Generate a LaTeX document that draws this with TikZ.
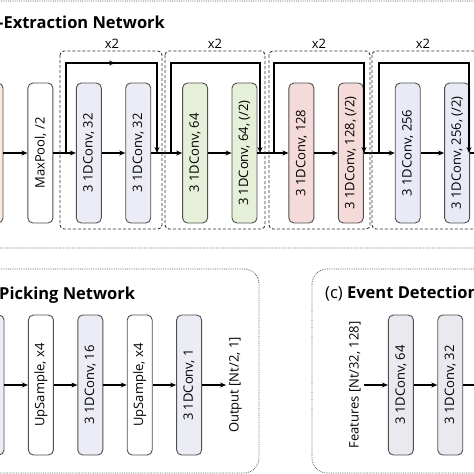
\documentclass[tikz,border=0pt]{standalone}
\usepackage{fontspec}
\setmainfont{Open Sans}
\usepackage{graphicx}
\usetikzlibrary{
  arrows.meta,
  positioning
}
\definecolor{LPeach}{HTML}{FBEADB}
\definecolor{LLav}{HTML}{ECECF6}
\definecolor{LGreen}{HTML}{E6EFD8}
\definecolor{LRose}{HTML}{F5DADA}
\definecolor{LSteel}{HTML}{E8EBF5}
\definecolor{LGrey}{HTML}{E9E9EF}
\definecolor{EdgeGrey}{HTML}{505050}
\newcommand{\vlab}[1]{\rotatebox{90}{#1}}
\tikzset{
  % Layer box: tall, label reads upwards
  layer/.style={
    rectangle, rounded corners=5pt,
    draw=EdgeGrey, fill=#1, line width=0.9pt,
    minimum width=25pt, minimum height=140pt,
    inner sep=0pt, font=\fontsize{13}{15}\selectfont
  },
  layer/.default=white,
  % Free text at the ends of a row
  io/.style={inner sep=3pt, font=\fontsize{13}{15}\selectfont},
  % Arrow
  arr/.style={-{Stealth[length=6pt,width=5pt]}, line width=1.1pt},
  % Plain line
  wire/.style={line width=1.1pt},
  % Dashed residual block
  grp/.style={rounded corners=4pt, draw=black!80, dash pattern=on 3pt off 2pt, line width=0.9pt},
  % Dotted section outline
  sect/.style={rounded corners=15pt, draw=black!65, densely dotted, line width=0.8pt},
  % Section title
  ttl/.style={font=\fontsize{16.5}{18}\selectfont\bfseries, anchor=base west, inner sep=0pt},
  % Repeat mark
  rep/.style={font=\fontsize{13}{15}\selectfont}
}
\begin{document}
\begin{tikzpicture}[x=1pt, y=-1pt, node distance=23.5pt]
  \useasboundingbox (0,0) rectangle (474,474);
  \clip (0,0) rectangle (474,474);

  % sections
  \draw[sect] (-30,1) rectangle (504,248);
  \draw[sect] (-30,269) rectangle (259,473);
  \draw[sect] (312,269) rectangle (504,473);

  \node[ttl] (ta) at (-2,28)  {-Extraction Network};
  \node[ttl] (tb) at (-1,299) {Picking Network};
  \node[ttl] (tc) at (325,298) {{\mdseries (c)} Event Detection};

  % (a) feature extraction
  \node[layer=LPeach] (in) at (-9.5,153) {};
  \node[layer,        right=24pt of in]     (pool)  {\vlab{MaxPool, /2}};
  \node[layer=LLav,   right=22.5pt of pool] (c32a)  {\vlab{3 1DConv, 32}};
  \node[layer=LLav,   right=of c32a]        (c32b)  {\vlab{3 1DConv, 32}};
  \node[layer=LGreen, right=31pt of c32b]   (c64a)  {\vlab{3 1DConv, 64}};
  \node[layer=LGreen, right=of c64a]        (c64b)  {\vlab{3 1DConv, 64, (/2)}};
  \node[layer=LRose,  right=31pt of c64b]   (c128a) {\vlab{3 1DConv, 128}};
  \node[layer=LRose,  right=of c128a]       (c128b) {\vlab{3 1DConv, 128, (/2)}};
  \node[layer=LSteel, right=31pt of c128b]  (c256a) {\vlab{3 1DConv, 256}};
  \node[layer=LSteel, right=of c256a]       (c256b) {\vlab{3 1DConv, 256, (/2)}};
  \coordinate (aout) at (490,153);

  \foreach \a/\b in {in/pool, pool/c32a, c32a/c32b, c32b/c64a, c64a/c64b,
                     c64b/c128a, c128a/c128b, c128b/c256a, c256a/c256b}
    \draw[arr] (\a) -- (\b);
  \draw[wire] (c256b) -- (aout);

  % residual blocks
  \foreach \i/\xs/\xe/\gl/\gr/\rx in {1/66/157/60/162/112, 2/171/260/165/265/215,
                                      3/274/364/269/370/319, 4/379/469/372/500/423} {
    \coordinate (s\i) at (\xs,153);
    \coordinate (e\i) at (\xe,153);
    \draw[arr] (s\i) -- ++(0,-90) -| (e\i);
    \draw[grp] (\gl,51) rectangle (\gr,229);
    \node[rep] (r\i) at (\rx,44) {x2};
  }
  \coordinate (m1) at (115,63);
  \draw[arr] (s1) ++(0,-90) -- (m1);

  % (b) picking
  \node[layer=LLav] (pin) at (-8.5,385) {};
  \node[layer,      right=of pin]      (up1)  {\vlab{UpSample, x4}};
  \node[layer=LLav, right=of up1]      (c16)  {\vlab{3 1DConv, 16}};
  \node[layer,      right=of c16]      (up2)  {\vlab{UpSample, x4}};
  \node[layer=LLav, right=of up2]      (c1)   {\vlab{3 1DConv, 1}};
  \node[io,         right=24pt of c1]  (pout) {\vlab{Output [Nt/2, 1]}};

  \foreach \a/\b in {pin/up1, up1/c16, c16/up2, up2/c1, c1/pout}
    \draw[arr] (\a) -- (\b);

  % (c) event detection
  \node[io] (feat) at (355,385) {\vlab{Features [Nt/32, 128]}};
  \node[layer=LGrey, right=24pt of feat] (d64) {\vlab{3 1DConv, 64}};
  \node[layer=LGrey, right=of d64]       (d32) {\vlab{3 1DConv, 32}};
  \coordinate (dout) at (490,385);

  \draw[arr] (feat) -- (d64);
  \draw[arr] (d64) -- (d32);
  \draw[wire] (d32) -- (dout);
\end{tikzpicture}
\end{document}
